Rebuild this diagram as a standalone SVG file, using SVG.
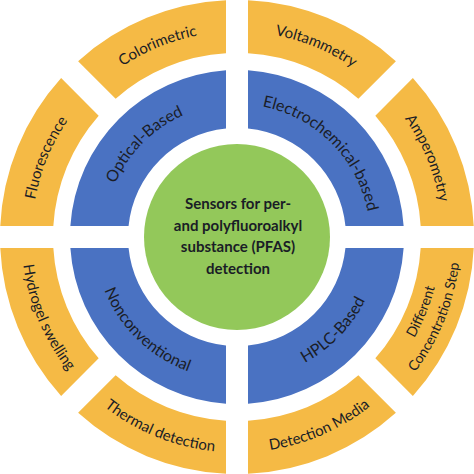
<svg xmlns="http://www.w3.org/2000/svg" xmlns:xlink="http://www.w3.org/1999/xlink" width="474" height="474" viewBox="0 0 474 474">
<style>
.y{fill:#F5BA45}
.b{fill:#4A72C2}
.g{fill:#93C85A}
.t{font-family:Lato,"Liberation Sans",sans-serif;fill:#1a1d26}
.ty{font-size:15px}
.tb{font-size:16px}
.tc{font-size:15px;font-weight:bold;text-anchor:middle}
</style>
<defs>
<path id="pTopY" d="M 31.5 237 A 205.5 205.5 0 0 1 442.5 237"/>
<path id="pTopB" d="M 104 237 A 133 133 0 0 1 370 237"/>
<path id="pBotY" d="M 21.5 237 A 215.5 215.5 0 0 0 452.5 237"/>
<path id="pBotB" d="M 94 237 A 143 143 0 0 0 380 237"/>
<path id="pBotY1" d="M 33 237 A 204 204 0 0 0 441 237"/>
<path id="pBotY2" d="M 13.5 237 A 223.5 223.5 0 0 0 460.5 237"/>
</defs>
<g id="connectors"/>
<g id="colorimetric">
<path class="y" d="M 78.12 61.14 A 237 237 0 0 1 226 0.26 L 226 53.33 A 184 184 0 0 0 115.66 98.68 Z"/>
<text class="t ty" transform="rotate(-22.5 237 237)"><textPath href="#pTopY" startOffset="50%" text-anchor="middle">Colorimetric</textPath></text>
</g>
<g id="fluorescence">
<path class="y" d="M 0.26 226 A 237 237 0 0 1 61.14 78.12 L 98.68 115.66 A 184 184 0 0 0 53.33 226 Z"/>
<text class="t ty" transform="rotate(-67.5 237 237)"><textPath href="#pTopY" startOffset="50%" text-anchor="middle">Fluorescence</textPath></text>
</g>
<g id="voltammetry">
<path class="y" d="M 248 0.26 A 237 237 0 0 1 395.88 61.14 L 358.34 98.68 A 184 184 0 0 0 248 53.33 Z"/>
<text class="t ty" transform="rotate(22.5 237 237)"><textPath href="#pTopY" startOffset="50%" text-anchor="middle">Voltammetry</textPath></text>
</g>
<g id="amperometry">
<path class="y" d="M 412.86 78.12 A 237 237 0 0 1 473.74 226 L 420.67 226 A 184 184 0 0 0 375.32 115.66 Z"/>
<text class="t ty" transform="rotate(67.5 237 237)"><textPath href="#pTopY" startOffset="50%" text-anchor="middle">Amperometry</textPath></text>
</g>
<g id="concentration">
<path class="y" d="M 473.74 248 A 237 237 0 0 1 412.86 395.88 L 375.32 358.34 A 184 184 0 0 0 420.67 248 Z"/>
<text class="t" font-size="14" transform="rotate(-68 237 237)"><textPath href="#pBotY1" startOffset="50%" text-anchor="middle">Different</textPath></text>
<text class="t" font-size="14" transform="rotate(-68 237 237)"><textPath href="#pBotY2" startOffset="50%" text-anchor="middle">Concentration Step</textPath></text>
</g>
<g id="detection-media">
<path class="y" d="M 395.88 412.86 A 237 237 0 0 1 248 473.74 L 248 420.67 A 184 184 0 0 0 358.34 375.32 Z"/>
<text class="t ty" transform="rotate(-23.5 237 237)"><textPath href="#pBotY" startOffset="50%" text-anchor="middle">Detection Media</textPath></text>
</g>
<g id="thermal">
<path class="y" d="M 226 473.74 A 237 237 0 0 1 78.12 412.86 L 115.66 375.32 A 184 184 0 0 0 226 420.67 Z"/>
<text class="t ty" transform="rotate(22 237 237)"><textPath href="#pBotY" startOffset="50%" text-anchor="middle">Thermal detection</textPath></text>
</g>
<g id="hydrogel">
<path class="y" d="M 61.14 395.88 A 237 237 0 0 1 0.26 248 L 53.33 248 A 184 184 0 0 0 98.68 358.34 Z"/>
<text class="t ty" transform="rotate(67 237 237)"><textPath href="#pBotY" startOffset="50%" text-anchor="middle">Hydrogel swelling</textPath></text>
</g>
<g id="optical">
<path class="b" d="M 70.36 226 A 167 167 0 0 1 226 70.36 L 226 128.56 A 109 109 0 0 0 128.56 226 Z"/>
<text class="t tb" transform="rotate(-45 237 237)"><textPath href="#pTopB" startOffset="50%" text-anchor="middle">Optical-Based</textPath></text>
</g>
<g id="electrochemical">
<path class="b" d="M 248 70.36 A 167 167 0 0 1 403.64 226 L 345.44 226 A 109 109 0 0 0 248 128.56 Z"/>
<text class="t tb" transform="rotate(45 237 237)"><textPath href="#pTopB" startOffset="50%" text-anchor="middle">Electrochemical-based</textPath></text>
</g>
<g id="hplc">
<path class="b" d="M 403.64 248 A 167 167 0 0 1 248 403.64 L 248 345.44 A 109 109 0 0 0 345.44 248 Z"/>
<text class="t tb" transform="rotate(-46 237 237)"><textPath href="#pBotB" startOffset="50%" text-anchor="middle">HPLC-Based</textPath></text>
</g>
<g id="nonconventional">
<path class="b" d="M 226 403.64 A 167 167 0 0 1 70.36 248 L 128.56 248 A 109 109 0 0 0 226 345.44 Z"/>
<text class="t tb" transform="rotate(44 237 237)"><textPath href="#pBotB" startOffset="50%" text-anchor="middle">Nonconventional</textPath></text>
</g>
<g id="center">
<circle class="g" cx="237" cy="237" r="93"/>
<text class="t tc" x="238" y="209">Sensors for per-</text>
<text class="t tc" x="238" y="230.5">and polyfluoroalkyl</text>
<text class="t tc" x="238" y="252">substance (PFAS)</text>
<text class="t tc" x="238" y="273.5">detection</text>
</g>
</svg>
